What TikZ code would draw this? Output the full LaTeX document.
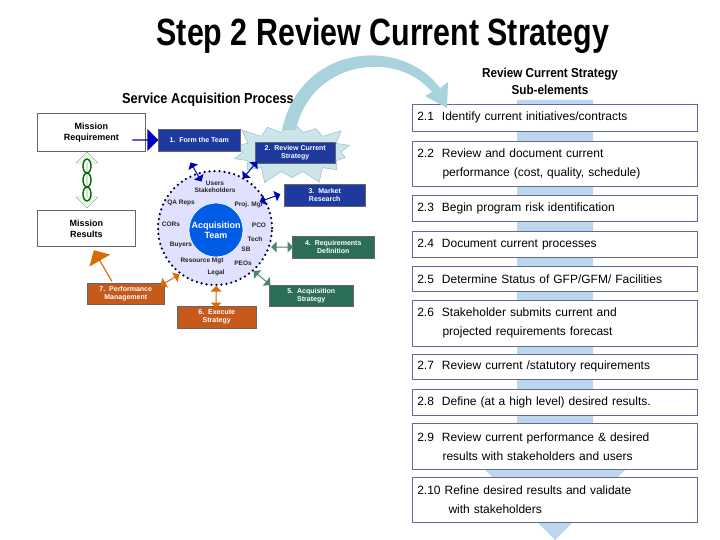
\documentclass[tikz,border=0pt]{standalone}
\usepackage{fontspec}
\setmainfont{Liberation Sans}
\usetikzlibrary{shapes.arrows,shapes.symbols,shapes.geometric}
\definecolor{navy}{HTML}{1F3A9E}
\definecolor{grn}{HTML}{2C6E56}
\definecolor{org}{HTML}{C65A1C}
\definecolor{shaft}{HTML}{BCD6EE}
\definecolor{curv}{HTML}{A9D3DC}
\tikzset{
 sub/.style={draw=gray!80!blue,fill=white,line width=0.6pt,minimum width=285pt,anchor=north west,text width=275pt,align=left,font=\fontsize{12}{19}\selectfont,inner xsep=5pt},
 stepbox/.style={text=white,font=\fontsize{7}{8}\selectfont\bfseries,align=center,anchor=north west,draw=black!60,line width=0.5pt},
 lab/.style={font=\fontsize{6.5}{7}\selectfont\bfseries,text=black!85,align=center,inner sep=0pt},
 darr/.style={double arrow,draw=none,minimum height=22pt,minimum width=11pt,double arrow head extend=2pt,inner sep=0pt},
 mbox/.style={draw=black!60,fill=white,line width=0.6pt,anchor=north west,font=\fontsize{9}{11}\selectfont\bfseries,align=center}
}
\begin{document}
\begin{tikzpicture}[x=1pt,y=-1pt]
\useasboundingbox (0,0) rectangle (720,540);
% title
\node (title) at (383,36) {\scalebox{0.8}[1]{\fontsize{38}{40}\selectfont\bfseries Step 2 Review Current Strategy}};
\node (subt) at (550,81) [align=center,font=\fontsize{13}{17}\selectfont\bfseries] {\scalebox{0.9}[1]{Review Current Strategy}\\\scalebox{0.9}[1]{Sub-elements}};
\node (sap) at (208,100) {\scalebox{0.88}[1]{\fontsize{14.5}{16}\selectfont\bfseries Service Acquisition Process}};
% big down arrow
\fill[shaft] (517,100) -- (593,100) -- (593,465) -- (630,465) -- (555,540) -- (480,465) -- (517,465) -- cycle;
% sub-elements
\node[sub,minimum height=27pt] (s1) at (412,104) {2.1\ \ Identify current initiatives/contracts};
\node[sub,minimum height=45pt] (s2) at (412,141) {2.2\ \ Review and document current\\\hspace*{2.1em}performance (cost, quality, schedule)};
\node[sub,minimum height=26pt] (s3) at (412,195) {2.3\ \ Begin program risk identification};
\node[sub,minimum height=26pt] (s4) at (412,231) {2.4\ \ Document current processes};
\node[sub,minimum height=25pt] (s5) at (412,266) {2.5\ \ Determine Status of GFP/GFM/ Facilities};
\node[sub,minimum height=46pt] (s6) at (412,300) {2.6\ \ Stakeholder submits current and\\\hspace*{2.1em}projected requirements forecast};
\node[sub,minimum height=25pt] (s7) at (412,354) {2.7\ \ Review current /statutory requirements};
\node[sub,minimum height=26pt] (s8) at (412,389) {2.8\ \ Define (at a high level) desired results.};
\node[sub,minimum height=46pt] (s9) at (412,423) {2.9\ \ Review current performance \& desired\\\hspace*{2.1em}results with stakeholders and users};
\node[sub,minimum height=45pt] (s10) at (412,477) {2.10 Refine desired results and validate\\\hspace*{2.6em}with stakeholders};
% star
\node[starburst,starburst points=14,starburst point height=16pt,minimum width=130pt,minimum height=72pt,fill=curv!60,draw=curv!90!black,line width=0.5pt] (star) at (292,152) {};
% curved arrow
\fill[curv] (282,130) .. controls (300,45) and (400,35) .. (440,88) -- (448,82) -- (447,108) -- (425,96) -- (432,92) .. controls (395,48) and (310,62) .. (296,130) -- cycle;
% circle
\node[circle,minimum size=114pt,fill=blue!12,draw=black!80!blue,line width=2.5pt,dash pattern=on 0pt off 5pt,line cap=round] (circ) at (215,228) {};
\node[circle,minimum size=54pt,fill=blue!60!cyan!90!black,draw=white,line width=0.6pt,text=white,font=\fontsize{9}{10}\selectfont\bfseries,align=center,inner sep=0pt] (team) at (216,230) {Acquisition\\Team};
\node[lab] (l1) at (215,187) {Users\\Stakeholders};
\node[lab] (l2) at (181,203) {QA Reps};
\node[lab] (l3) at (249,205) {Proj. Mgr};
\node[lab] (l4) at (171,224) {CORs};
\node[lab] (l5) at (259,225) {PCO};
\node[lab] (l6) at (255,239) {Tech};
\node[lab] (l7) at (246,249) {SB};
\node[lab] (l8) at (181,245) {Buyers};
\node[lab] (l9) at (202,261) {Resource Mgt};
\node[lab] (l10) at (243,263) {PEOs};
\node[lab] (l11) at (216,273) {Legal};
% mission boxes
\node[mbox,minimum width=108pt,minimum height=38pt] (mreq) at (37,113) {Mission\\Requirement};
\node[mbox,minimum width=98pt,minimum height=36pt] (mres) at (37,210) {Mission\\Results};
% step boxes
\node[stepbox,fill=navy,minimum width=82pt,minimum height=22pt] (b1) at (158,129) {1.\ \ Form the Team};
\node[stepbox,fill=navy,minimum width=80pt,minimum height=21pt] (b2) at (255,142) {2.\ \ Review Current\\Strategy};
\node[stepbox,fill=navy,minimum width=81pt,minimum height=22pt] (b3) at (284,184) {3.\ \ Market\\Research};
\node[stepbox,fill=grn,minimum width=82pt,minimum height=22pt] (b4) at (292,236) {4.\ \ Requirements\\Definition};
\node[stepbox,fill=grn,minimum width=84pt,minimum height=21pt] (b5) at (269,285) {5.\ \ Acquisition\\Strategy};
\node[stepbox,fill=org,minimum width=79pt,minimum height=22pt] (b6) at (177,306) {6.\ \ Execute\\Strategy};
\node[stepbox,fill=org,minimum width=77pt,minimum height=21pt] (b7) at (87,283) {7.\ \ Performance\\Management};
% arrows
\node[single arrow,fill=blue!75!black,minimum height=26pt,minimum width=22pt,single arrow head extend=3pt,inner sep=0pt] (a0) at (145,140) {};
\node[darr,fill=blue!70!black,rotate=120] (d1) at (196,172) {};
\node[darr,fill=blue!70!black,rotate=50] (d2) at (250,170) {};
\node[darr,fill=blue!70!black,rotate=20] (d3) at (270,198) {};
\node[darr,fill=grn!85!white,rotate=0] (d4) at (282,247) {};
\node[darr,fill=grn!85!white,rotate=-40] (d5) at (262,278) {};
\node[darr,fill=orange!85!black,rotate=-90] (d6) at (216,297) {};
\node[darr,fill=orange!85!black,rotate=210] (d7) at (170,280) {};
\node[single arrow,fill=orange!85!black,rotate=120,minimum height=36pt,minimum width=24pt,single arrow head extend=4pt,inner sep=0pt] (big) at (103,266) {};
% chain arrow
\node[double arrow,fill=gray!15!green!8,draw=gray!70,rotate=90,minimum height=56pt,minimum width=22pt,double arrow head extend=4pt,inner sep=0pt] (chain) at (87,180) {};
\foreach \yy in {166,180,194}
  \draw[green!40!black,line width=1.4pt] (87,\yy) ellipse (4pt and 7pt);
\end{tikzpicture}
\end{document}
